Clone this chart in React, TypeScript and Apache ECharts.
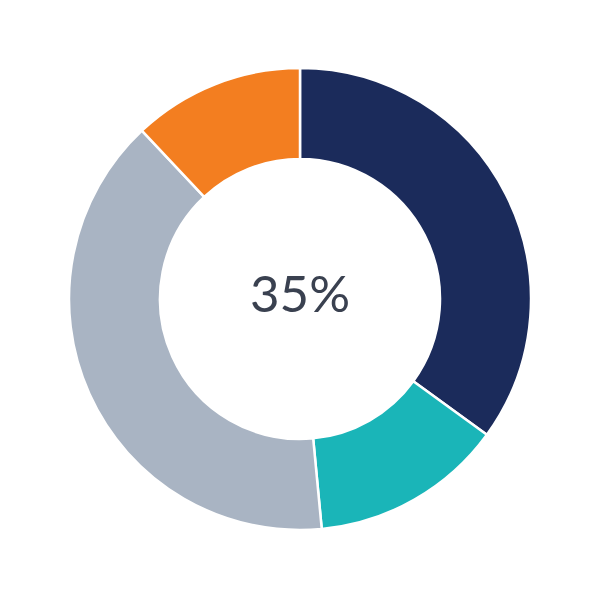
import React, { useEffect, useRef } from "react";
import * as echarts from "echarts";

const categories = ["A", "B", "C", "D"];
const values = [35, 13.5, 39.5, 12];
const colors = ["#1b2b5b", "#1ab5b8", "#a9b4c3", "#f37e20"];
const centerLabel = "35%";

export default function App() {
  const ref = useRef<HTMLDivElement>(null);
  useEffect(() => {
    const chart = echarts.init(ref.current!, null, { renderer: "svg" });
    chart.setOption({
      animation: false,
      backgroundColor: "#ffffff",
      graphic: [
        {
          type: "text",
          x: 300,
          y: 292,
          style: {
            text: centerLabel,
            align: "center",
            verticalAlign: "middle",
            fontFamily: "Lato",
            fontWeight: 400,
            fontSize: 51,
            fill: "#3a4150",
          },
        },
      ],
      series: [
        {
          type: "pie",
          center: [300, 299],
          radius: [140, 231],
          startAngle: 90,
          clockwise: true,
          label: { show: false },
          labelLine: { show: false },
          itemStyle: { borderColor: "#ffffff", borderWidth: 2.5 },
          emphasis: { disabled: true },
          data: categories.map((c, i) => ({
            name: c,
            value: values[i],
            itemStyle: { color: colors[i] },
          })),
        },
      ],
    });
    return () => chart.dispose();
  }, []);
  return (
    <div
      ref={ref}
      style={{ position: "fixed", left: 0, top: 0, width: 600, height: 599 }}
    />
  );
}
